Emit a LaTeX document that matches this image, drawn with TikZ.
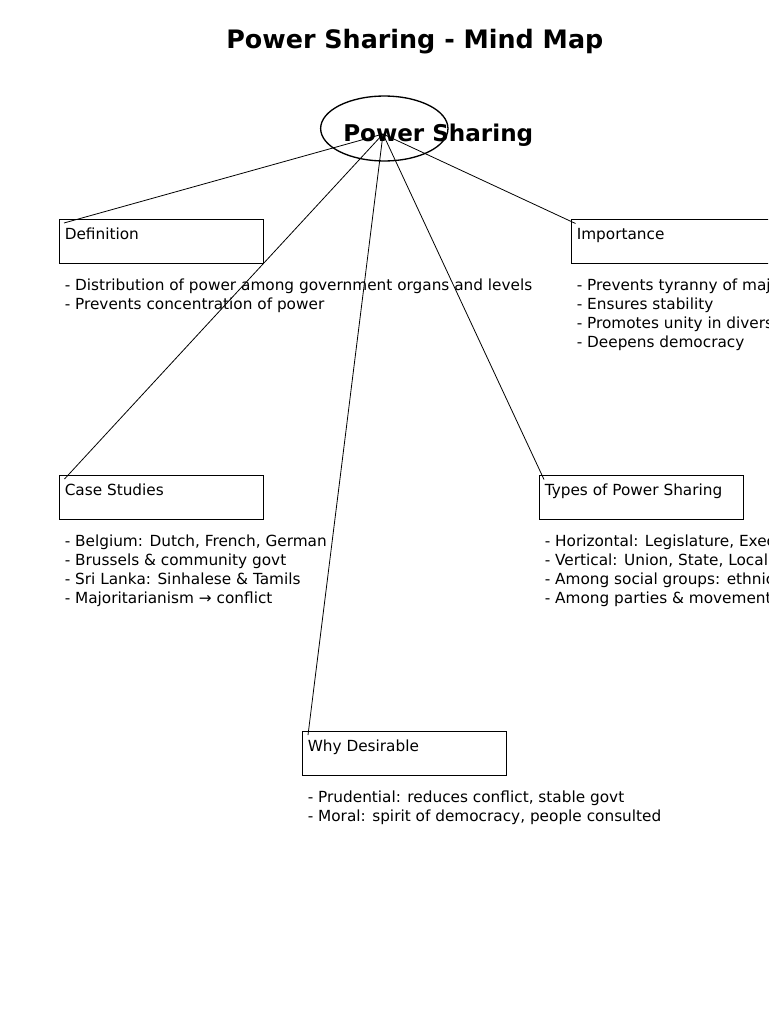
\documentclass[tikz,border=0pt]{standalone}
\usepackage{fontspec}
\setmainfont{DejaVu Sans}
\usetikzlibrary{shapes.geometric}
\tikzset{
  box/.style={draw, line width=0.8pt, minimum width=153pt, minimum height=33pt, anchor=north west, inner sep=0pt},
  txt/.style={anchor=base west, inner sep=0pt, font=\fontsize{11.48}{13}\selectfont},
  link/.style={line width=0.6pt},
}
\begin{document}
\begin{tikzpicture}[x=0.75pt,y=-0.75pt]
\useasboundingbox (0,0) rectangle (768,1024);
\fill[white] (0,0) rectangle (768,1024);
\clip (0,0) rectangle (768,1024);
% title
\node[anchor=base, inner sep=0pt, font=\fontsize{19.05}{22}\selectfont\bfseries] (title) at (414.8,48.5) {Power Sharing - Mind Map};
% central
\node[draw, ellipse, line width=1pt, minimum width=95.5pt, minimum height=48.7pt, inner sep=0pt] (ps) at (384.3,128.5) {};
\node[anchor=base west, inner sep=0pt, font=\fontsize{17.3}{20}\selectfont\bfseries] (pstext) at (343,141) {Power Sharing};
\coordinate (hub) at (383,134);
% boxes
\node[box] (defbox) at (58.5,218.5) {};
\node[box] (impbox) at (570.5,218.5) {};
\node[box] (casebox) at (58.5,475) {};
\node[box] (typebox) at (538.5,475) {};
\node[box] (whybox) at (302,731) {};
% connector ends
\coordinate (defc) at (64,223);
\coordinate (impc) at (575.5,223.5);
\coordinate (casec) at (64.5,479);
\coordinate (typec) at (544,479.5);
\coordinate (whyc) at (308,735);
\draw[link] (hub) -- (defc);
\draw[link] (hub) -- (impc);
\draw[link] (hub) -- (casec);
\draw[link] (hub) -- (typec);
\draw[link] (hub) -- (whyc);
% box titles
\node[txt] (deft) at (64.5,239.5) {Definition};
\node[txt] (impt) at (576.5,239.5) {Importance};
\node[txt] (caset) at (64.5,495.7) {Case Studies};
\node[txt] (typet) at (544.5,495.7) {Types of Power Sharing};
\node[txt] (whyt) at (307.5,751.7) {Why Desirable};
% bullet texts
\node[txt] (def1) at (64.5,290) {- Distribution of power among government organs and levels};
\node[txt] (def2) at (64.5,309.2) {- Prevents concentration of power};
\node[txt] (imp1) at (576.5,290) {- Prevents tyranny of majority};
\node[txt] (imp2) at (576.5,309.2) {- Ensures stability};
\node[txt] (imp3) at (576.5,328.4) {- Promotes unity in diversity};
\node[txt] (imp4) at (576.5,347.6) {- Deepens democracy};
\node[txt] (case1) at (64.5,546) {- Belgium: Dutch, French, German};
\node[txt] (case2) at (64.5,565.2) {- Brussels \& community govt};
\node[txt] (case3) at (64.5,584.4) {- Sri Lanka: Sinhalese \& Tamils};
\node[txt] (case4) at (64.5,603.6) {- Majoritarianism → conflict};
\node[txt] (type1) at (544.5,546) {- Horizontal: Legislature, Executive, Judiciary};
\node[txt] (type2) at (544.5,565.2) {- Vertical: Union, State, Local};
\node[txt] (type3) at (544.5,584.4) {- Among social groups: ethnic, religious};
\node[txt] (type4) at (544.5,603.6) {- Among parties \& movements};
\node[txt] (why1) at (307.5,802.5) {- Prudential: reduces conflict, stable govt};
\node[txt] (why2) at (307.5,821.7) {- Moral: spirit of democracy, people consulted};
\end{tikzpicture}
\end{document}
